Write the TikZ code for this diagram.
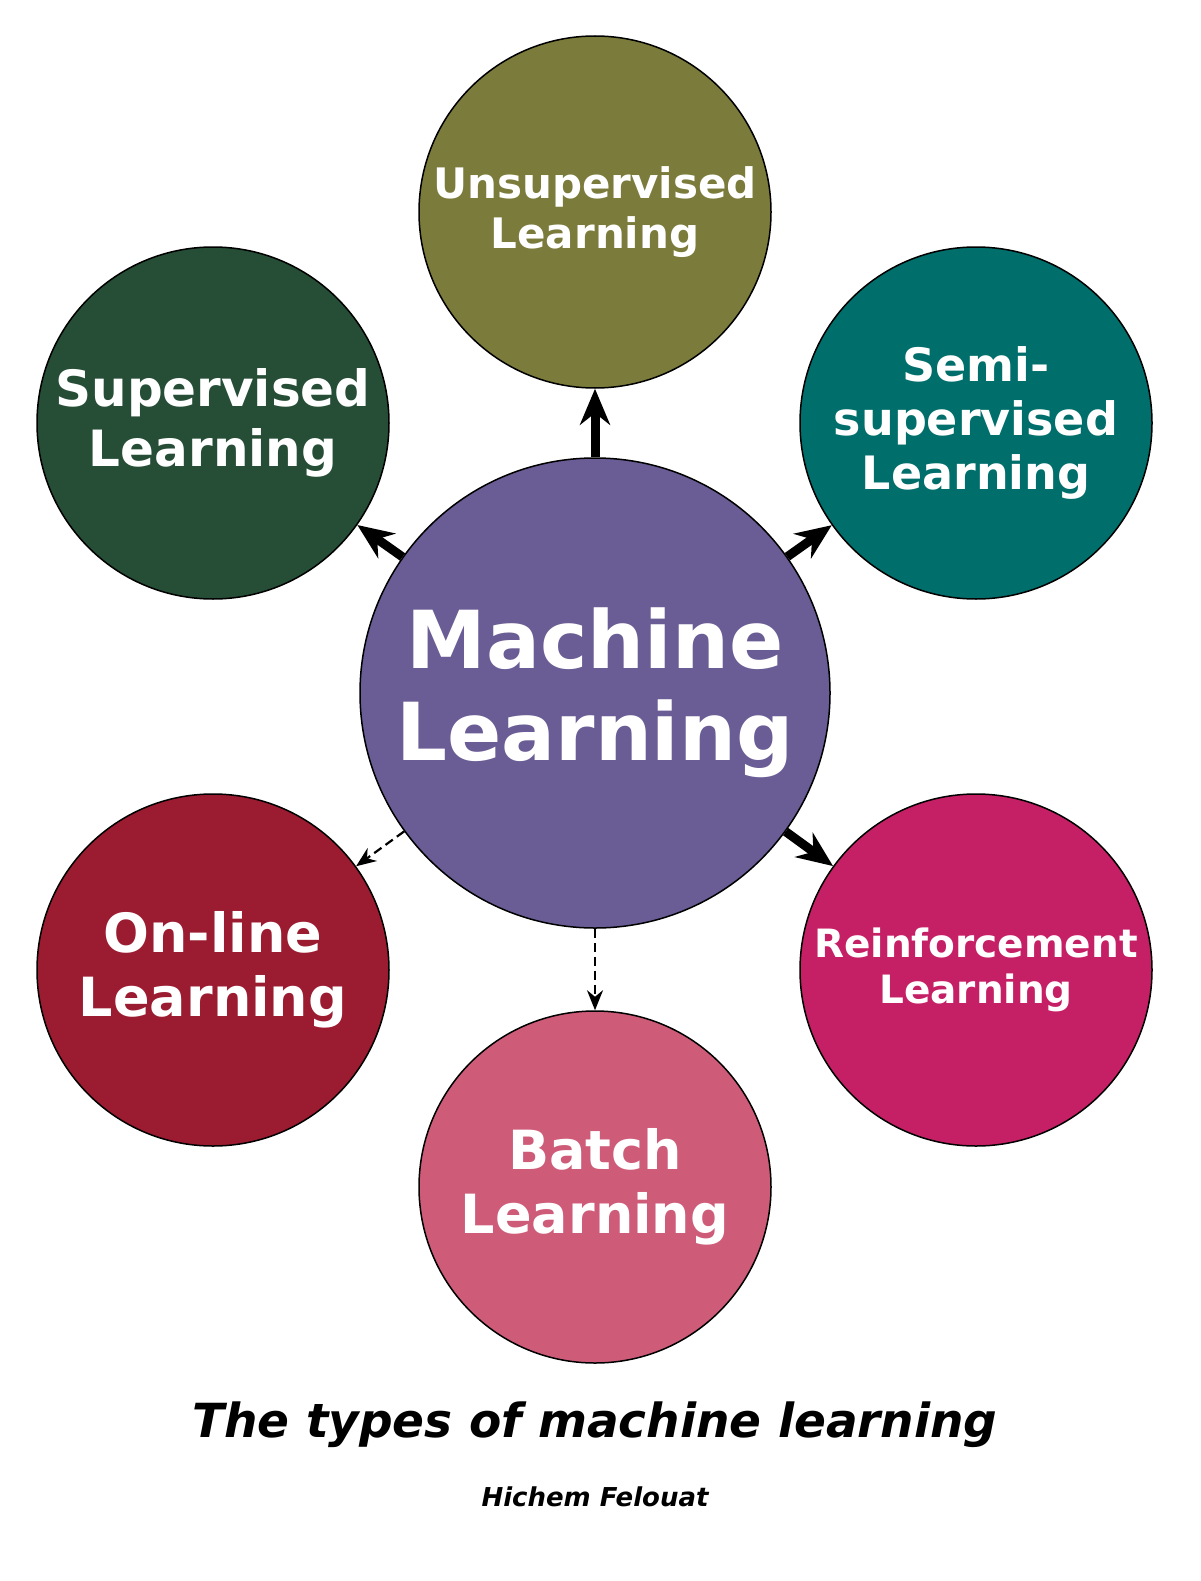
\documentclass[tikz,border=0pt]{standalone}
\usepackage{fontspec}
\setmainfont{DejaVu Sans}
\usetikzlibrary{arrows.meta}
\definecolor{cun}{HTML}{7B7B3C}
\definecolor{csup}{HTML}{264D36}
\definecolor{csemi}{HTML}{006E6B}
\definecolor{cml}{HTML}{6A5C94}
\definecolor{con}{HTML}{9B1B30}
\definecolor{cre}{HTML}{C52066}
\definecolor{cba}{HTML}{CE5C79}
\begin{document}
\begin{tikzpicture}[x=1pt,y=-1pt,
  circ/.style={circle,draw=black,line width=1.5pt,minimum size=352pt,inner sep=0pt,text=white,align=center,font=\bfseries},
  big/.style={-{Stealth[length=36pt,width=30pt]},line width=9pt},
  dsh/.style={-{Stealth[length=20pt,width=16pt]},line width=2.2pt,dash pattern=on 9pt off 5pt}]
\useasboundingbox (0,0) rectangle (1200,1581);
\node[circ,fill=cml,minimum size=470pt,font=\bfseries\fontsize{80}{92}\selectfont] (ml) at (595,693) {Machine\\Learning};
\node[circ,fill=cun,font=\bfseries\fontsize{42}{50}\selectfont] (un) at (595,212) {Unsupervised\\Learning};
\node[circ,fill=csup,font=\bfseries\fontsize{50}{60}\selectfont] (su) at (213,423) {Supervised\\Learning};
\node[circ,fill=csemi,font=\bfseries\fontsize{46}{54}\selectfont] (se) at (976,423) {Semi-\\supervised\\Learning};
\node[circ,fill=con,font=\bfseries\fontsize{54}{64}\selectfont] (on) at (213,970) {On-line\\Learning};
\node[circ,fill=cre,font=\bfseries\fontsize{39}{46}\selectfont] (re) at (976,970) {Reinforcement\\Learning};
\node[circ,fill=cba,font=\bfseries\fontsize{54}{64}\selectfont] (ba) at (595,1187) {Batch\\Learning};
\draw[big] (ml) -- (un);
\draw[big] (ml) -- (su);
\draw[big] (ml) -- (se);
\draw[big] (ml) -- (re);
\draw[dsh] (ml) -- (on);
\draw[dsh] (ml) -- (ba);
\node[font=\bfseries\itshape\fontsize{47}{52}\selectfont] (title) at (595,1425) {The types of machine learning};
\node[font=\bfseries\itshape\fontsize{26}{30}\selectfont] (auth) at (595,1497) {Hichem Felouat};
\end{tikzpicture}
\end{document}
